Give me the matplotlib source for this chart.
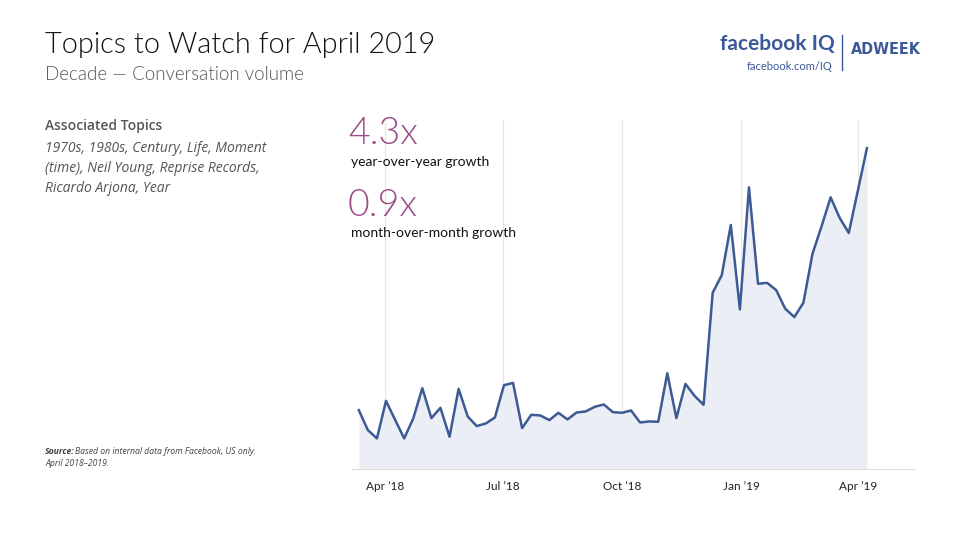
import pandas as pd
import numpy as np
import matplotlib.pyplot as plt
import matplotlib.dates as mdates

# weekly conversation volume (relative units)
dates = pd.date_range("2018-03-12", periods=57, freq="7D")
volume = [177, 117, 92, 205, 148, 92, 152, 243, 153, 184, 97, 241, 158, 129,
          137, 155, 252, 259, 123, 163, 161, 147, 169, 149, 170, 173, 187, 194,
          171, 169, 176, 140, 143, 142, 288, 153, 256, 220, 193, 530, 583, 734,
          480, 847, 557, 560, 538, 482, 457, 500, 647, 730, 817, 755, 710, 837,
          965]

tick_dates = pd.to_datetime(["2018-04-01", "2018-07-01", "2018-10-01",
                             "2019-01-01", "2019-04-01"])
tick_labels = ["Apr \u201918", "Jul \u201918", "Oct \u201918", "Jan \u201919", "Apr \u201919"]

topics = ["1970s, 1980s, Century, Life, Moment",
          "(time), Neil Young, Reprise Records,",
          "Ricardo Arjona, Year"]

yoy = "4.3x"
mom = "0.9x"

line_color = "#3d5a94"
fill_color = "#eceef5"
purple = "#9a4d86"
fb_blue = "#3b5998"

fig = plt.figure(figsize=(9.6, 5.4), dpi=100)
fig.patch.set_facecolor("white")

ax = fig.add_axes([0.367, 0.1315, 0.586, 0.6465])
ax.fill_between(dates, volume, 0, color=fill_color, linewidth=0)
ax.plot(dates, volume, color=line_color, linewidth=1.8)

ax.set_xlim(pd.Timestamp("2018-03-07"), pd.Timestamp("2019-05-15"))
ax.set_ylim(0, 1050)
ax.set_xticks(tick_dates)
ax.set_xticklabels(tick_labels, fontsize=8.5, family="Lato", color="#222222")
ax.set_yticks([])
ax.tick_params(axis="x", length=0, pad=9)
ax.grid(axis="x", color="#e6e6e6", linewidth=0.8)
ax.set_axisbelow(True)
for s in ["top", "right", "left"]:
    ax.spines[s].set_visible(False)
ax.spines["bottom"].set_color("#dddddd")
ax.spines["bottom"].set_linewidth(0.8)

# header
fig.text(45 / 960, 1 - 45 / 540, "Topics to Watch for April 2019", fontsize=20.8,
         family="Lato", weight=300, color="#111111", va="center")
fig.text(45 / 960, 1 - 75 / 540, "Decade \u2014 Conversation volume", fontsize=13.5,
         family="Lato", weight=300, color="#555555", va="center")

# logo block
fig.text(835 / 960, 1 - 44 / 540, "facebook IQ", fontsize=15, family="Lato",
         weight="bold", color=fb_blue, ha="right", va="center")
fig.text(833 / 960, 1 - 66 / 540, "facebook.com/IQ", fontsize=8, family="Lato",
         color=fb_blue, ha="right", va="center")
fig.add_artist(plt.Line2D([842 / 960, 842 / 960], [1 - 35 / 540, 1 - 70 / 540],
                          color=fb_blue, linewidth=1))
fig.text(851 / 960, 1 - 50 / 540, "ADWEEK", fontsize=11.5, family="DejaVu Sans",
         stretch="condensed", weight="bold", color=fb_blue, ha="left", va="center")

# associated topics
fig.text(45 / 960, 1 - 126 / 540, "Associated Topics", fontsize=10,
         family="Open Sans", weight="semibold", color="#555555", va="center")
for i, line in enumerate(topics):
    fig.text(45 / 960, 1 - (148 + i * 20.5) / 540, line, fontsize=10,
             family="Open Sans", style="italic", color="#555555", va="center")

# growth numbers
fig.text(348 / 960, 1 - 134 / 540, yoy, fontsize=27, family="Lato", weight=300,
         color=purple, va="center")
fig.text(351 / 960, 1 - 162 / 540, "year-over-year growth", fontsize=10,
         family="Lato", color="#111111", va="center")
fig.text(348 / 960, 1 - 206 / 540, mom, fontsize=27, family="Lato", weight=300,
         color=purple, va="center")
fig.text(351 / 960, 1 - 233 / 540, "month-over-month growth", fontsize=10,
         family="Lato", color="#111111", va="center")

# source
fig.text(45 / 960, 1 - 451 / 540, "Source:", fontsize=6.2, family="Open Sans",
         style="italic", weight="bold", color="#444444", va="center")
fig.text(75 / 960, 1 - 451 / 540, "Based on internal data from Facebook, US only.",
         fontsize=6.2, family="Open Sans", style="italic", color="#444444", va="center")
fig.text(45 / 960, 1 - 464 / 540, "April 2018\u20132019.", fontsize=6.2,
         family="Open Sans", style="italic", color="#444444", va="center")

plt.savefig("out.png", dpi=100)
